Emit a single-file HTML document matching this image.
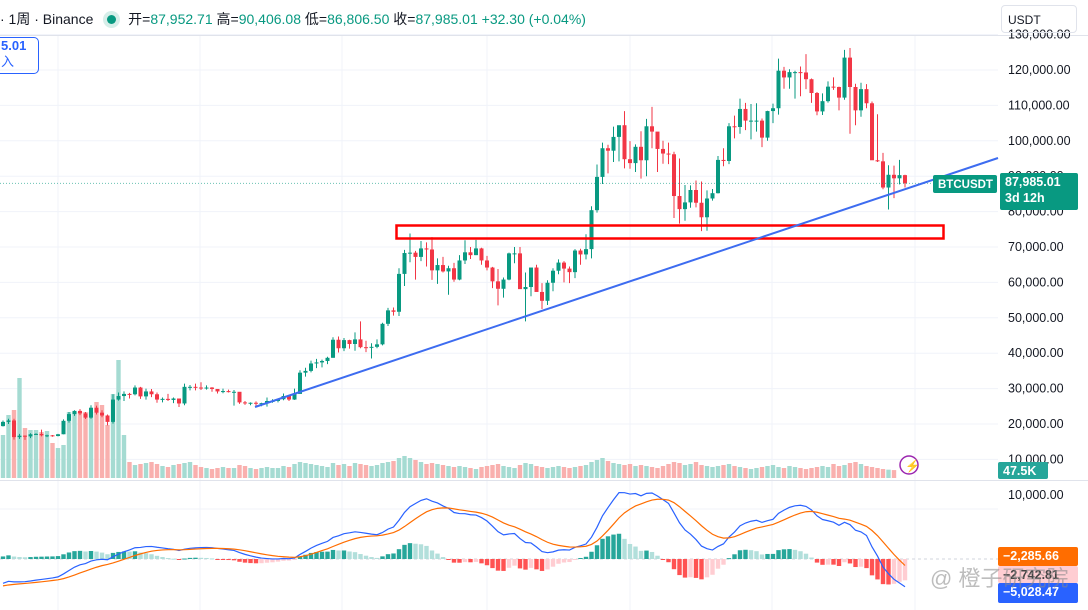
<!DOCTYPE html>
<html><head><meta charset="utf-8"><style>
body{margin:0;width:1088px;height:610px;overflow:hidden;background:#fff;font-family:"Liberation Sans","Noto Sans CJK SC",sans-serif;}
#wrap{position:relative;width:1088px;height:610px;}
svg{position:absolute;left:0;top:0;}
.hdr{position:absolute;top:9px;left:0;font-size:14px;color:#131722;white-space:nowrap;}
.hdr span.v{color:#089981}
</style></head><body><div id="wrap">
<svg id="s" width="1088" height="610"></svg>
<div class="hdr">· 1周 · Binance <span style="display:inline-block;width:9px;height:9px;border-radius:50%;background:#089981;box-shadow:0 0 0 4px #d6eee9;margin:0 8px 0 10px"></span> 开=<span class="v">87,952.71</span> 高=<span class="v">90,406.08</span> 低=<span class="v">86,806.50</span> 收=<span class="v">87,985.01</span> <span class="v">+32.30 (+0.04%)</span></div>
<div style="position:absolute;left:1001px;top:5px;width:76px;height:28px;border:1px solid #e0e3eb;border-radius:4px;font-size:12px;line-height:28px;padding-left:6px;box-sizing:border-box;color:#131722">USDT</div>
<div style="position:absolute;left:-8px;top:37px;width:47px;height:37px;border:1px solid #2962ff;border-radius:5px;font-size:13px;color:#2962ff;padding-left:8px;box-sizing:border-box;line-height:16px;font-weight:bold">5.01<br><span style="font-weight:normal">入</span></div>
</div>
<script>
const opens0=19.4;
const closes=[20.6,21.0,16.3,16.7,16.5,17.1,17.2,16.8,16.8,16.6,17.1,20.9,22.8,23.7,23.0,21.8,24.6,23.2,22.4,20.6,26.9,27.9,28.5,28.4,30.3,27.8,29.2,28.4,26.9,27.1,26.8,27.2,25.8,30.5,30.5,30.3,30.2,30.3,29.9,29.2,29.3,29.0,29.1,26.1,26.0,26.0,25.8,25.9,26.5,26.5,27.0,27.9,26.9,28.5,34.5,35.0,37.1,37.4,37.8,38.7,43.8,41.4,43.7,42.6,43.9,41.7,41.6,41.8,42.5,48.3,52.1,51.7,62.4,68.3,68.4,67.2,69.6,69.3,63.4,64.9,63.1,64.0,60.8,66.2,68.5,67.7,69.6,66.2,64.2,60.3,58.2,60.8,68.2,68.2,58.1,58.7,64.2,57.3,54.8,59.9,63.3,65.6,63.9,62.9,69.0,67.9,69.4,80.4,89.8,97.9,97.2,101.1,104.4,94.8,93.7,98.3,94.5,104.1,102.6,97.7,96.4,96.2,84.4,80.7,82.6,86.1,82.5,78.4,83.7,85.2,94.6,94.3,104.1,103.9,109.0,105.7,105.7,105.7,100.9,108.4,109.2,119.8,117.9,119.4,119.4,119.3,117.4,113.5,108.3,111.2,115.3,115.2,112.2,123.5,115.2,108.6,114.6,110.6,94.5,94.2,86.8,90.4,89.4,90.3,87.985];
const highs=[21.0,21.5,21.5,17.2,16.8,17.4,17.4,18.4,17.0,16.9,17.2,21.3,23.4,23.9,24.2,23.4,25.3,25.2,23.9,22.7,28.4,28.9,29.2,28.8,30.9,30.5,30.0,29.9,28.9,27.5,28.5,27.5,27.0,31.4,31.0,31.4,31.8,30.9,30.4,29.8,30.0,29.7,29.6,26.8,26.5,26.1,26.4,26.0,27.5,27.0,27.2,28.6,28.0,30.0,35.2,35.9,37.9,38.4,38.2,39.0,44.5,44.7,44.3,43.8,45.9,49.0,43.5,42.8,43.9,48.6,52.8,52.9,64.0,69.2,73.8,68.9,71.7,71.3,72.8,66.8,67.2,64.7,65.5,67.7,71.9,70.0,72.0,69.8,67.5,64.4,63.8,61.4,68.4,70.0,70.0,62.8,62.0,65.0,59.8,60.6,64.0,66.5,66.0,64.5,69.4,69.5,73.6,81.5,93.3,99.5,98.9,104.0,103.7,108.4,99.9,99.0,102.7,106.2,109.6,102.0,100.0,99.5,96.9,95.0,87.5,87.4,88.8,88.5,86.0,86.4,95.7,97.9,105.0,107.1,111.9,110.7,110.4,110.6,106.3,108.5,110.5,123.2,120.9,120.2,119.8,121.0,124.5,117.6,113.8,113.4,116.8,117.9,115.3,125.7,126.2,116.1,116.4,116.0,111.1,107.5,96.6,93.1,93.0,94.6,90.4];
const lows=[19.3,20.0,15.6,15.8,15.5,16.0,16.9,16.5,16.3,16.4,16.5,17.1,20.4,22.3,22.5,21.4,21.5,22.7,21.9,19.6,20.1,26.6,26.5,27.2,28.1,27.1,26.9,27.6,26.0,26.1,26.5,25.9,24.8,25.3,29.5,29.5,29.6,29.7,29.1,28.6,28.7,28.9,25.2,25.7,25.4,25.3,24.9,25.0,24.9,26.0,26.1,26.7,26.5,26.8,29.8,33.4,34.6,35.8,36.0,36.9,38.7,40.2,40.6,41.3,40.7,41.4,40.3,38.5,41.4,42.2,47.7,50.6,50.5,59.0,65.7,60.8,66.0,64.5,60.7,59.6,62.8,56.5,60.2,60.6,65.2,66.6,67.7,65.0,63.4,58.4,53.5,55.7,60.6,65.4,63.4,49.0,56.1,57.9,52.5,53.6,57.5,62.3,60.0,59.8,61.2,65.0,66.5,66.8,79.7,87.8,90.8,94.0,94.2,92.2,92.1,91.2,89.3,90.0,97.9,91.2,93.5,93.4,78.2,76.6,77.4,81.1,81.2,74.5,74.6,83.1,85.1,92.8,93.4,100.7,102.0,103.0,100.4,102.6,98.2,100.0,105.0,107.4,114.7,114.7,111.9,112.6,114.6,110.7,107.2,107.3,110.8,114.4,108.6,111.6,102.0,104.4,106.8,109.2,98.9,94.0,86.3,80.6,83.8,87.7,86.8];
const volumes=[258,378,408,600,300,288,288,276,282,210,180,198,396,396,396,396,396,456,438,318,504,708,258,96,78,84,90,96,84,72,66,78,84,90,96,78,66,60,54,60,66,60,60,78,72,60,54,60,66,60,60,72,66,84,96,90,84,78,72,66,90,78,84,72,90,84,78,72,78,90,96,102,120,132,120,108,96,84,90,84,78,72,66,72,66,60,54,66,72,78,84,72,66,60,78,90,84,72,66,60,66,72,66,60,66,72,78,96,108,120,102,90,84,78,84,72,78,72,66,60,72,84,96,90,78,84,96,78,72,66,72,78,84,72,66,60,54,60,66,72,78,66,60,72,66,60,54,60,66,72,66,84,72,78,90,96,84,72,66,60,54,50,47.5];
const priceTicks=[10000,20000,30000,40000,50000,60000,70000,80000,90000,100000,110000,120000,130000];
const NS="http://www.w3.org/2000/svg";
const svg=document.getElementById('s');
function el(t,a,parent){const e=document.createElementNS(NS,t);for(const k in a)e.setAttribute(k,a[k]);(parent||svg).appendChild(e);return e;}
const xOf=i=>3+i*5.5;
const yP=p=>70+(120-p)*3.54;        // p in thousands
const yV=v=>478-v/6;
const yM=m=>559-m*6.4;              // macd in thousands
// grid
[58,200,342,487,630,772,915].forEach(x=>{const g=el('line',{x1:x,x2:x,y1:35,y2:610,stroke:'#f0f3fa'});});
priceTicks.forEach(p=>{const y=yP(p/1000);const g=el('line',{x1:0,x2:998,y1:y,y2:y,stroke:'#f0f3fa'});});
el('line',{x1:0,x2:1088,y1:480.5,y2:480.5,stroke:'#e0e3eb'});
el('line',{x1:0,x2:1088,y1:35.5,y2:35.5,stroke:'#e0e3eb'});
el('line',{x1:0,x2:998,y1:509,y2:509,stroke:'#f0f3fa'});
// volumes
closes.forEach((c,i)=>{const o=i?closes[i-1]:opens0;const r=el('rect',{x:xOf(i)-2.2,y:yV(volumes[i]),width:4.4,height:478-yV(volumes[i]),fill:c>=o?'#a5dbd2':'#f9b0ae'});
});
// candles
closes.forEach((c,i)=>{const o=i?closes[i-1]:opens0;const col=c>=o?'#089981':'#f23645';const x=xOf(i);
const w=el('line',{x1:x,x2:x,y1:yP(highs[i]),y2:yP(lows[i]),stroke:col,'stroke-width':1});

const t=Math.min(yP(o),yP(c));const h=Math.max(1,Math.abs(yP(o)-yP(c)));
const b=el('rect',{x:x-2,y:t,width:4,height:h,fill:col});
});
// price line
el('line',{x1:0,x2:998,y1:yP(87.985),y2:yP(87.985),stroke:'#089981','stroke-dasharray':'1 2','stroke-width':1,opacity:0.6});
// red box & trendline
const box=el('rect',{x:396.5,y:225.5,width:547,height:13,fill:'none',stroke:'#ff0000','stroke-width':2.5});

const tl=el('line',{x1:255,y1:407,x2:998,y2:158,stroke:'#3d6cf0','stroke-width':2});

// macd
let e12=20.6,e26=24.4,sig=-4.2;const macd=[],sg=[];
closes.forEach((c,i)=>{if(i>0){e12=e12+(c-e12)*2/13;e26=e26+(c-e26)*2/27;sig=sig+((e12-e26)-sig)*2/10;}else{sig=-4.2;}macd.push(e12-e26);sg.push(sig);});
el('line',{x1:0,x2:998,y1:559,y2:559,stroke:'#d1d4dc','stroke-dasharray':'3 3'});
let prevH=null;
macd.forEach((m,i)=>{const h=m-sg[i];let col;if(h>=0)col=(prevH===null||h>=prevH)?'#26a69a':'#b2dfdb';else col=(prevH===null||h<=prevH)?'#ff5252':'#ffcdd2';prevH=h;
const y=yM(h);const r=el('rect',{x:xOf(i)-2.2,y:Math.min(y,559),width:4.4,height:Math.max(1,Math.abs(y-559)),fill:col});
});
const ml=el('polyline',{points:macd.map((m,i)=>xOf(i)+','+yM(m)).join(' '),fill:'none',stroke:'#2962ff','stroke-width':1.2});

const sl=el('polyline',{points:sg.map((m,i)=>xOf(i)+','+yM(m)).join(' '),fill:'none',stroke:'#ff6d00','stroke-width':1.2});

// axis labels
priceTicks.forEach(p=>{const t=el('text',{x:1008,y:yP(p/1000)+4,'font-size':12.5,fill:'#131722'});t.textContent=p.toLocaleString('en-US')+'.00';
});
const mt=el('text',{x:1008,y:499,'font-size':12.5,fill:'#131722'});mt.textContent='10,000.00';

function tag(x,y,w,h,fill,txt,tc,name,fs){const g=el('g',{});
el('rect',{x:x,y:y,width:w,height:h,rx:2,fill:fill},g);const lines=txt.split('\n');lines.forEach((l,k)=>{const t=el('text',{x:x+5,y:y+13+k*16,'font-size':fs||12.5,fill:tc,'font-weight':'bold'},g);t.textContent=l;});}
tag(933,175,64,18,'#089981','BTCUSDT','#fff','symbol-tag',11.5);
tag(1000,173,78,37,'#089981','87,985.01\n3d 12h','#fff','last-price-tag');
tag(998,462,50,17,'#26a69a','47.5K','#fff','volume-tag');
tag(998,547,80,19,'#ff6d00','−2,285.66','#fff','signal-value-tag');
tag(998,566,80,17,'#ffcdd2','−2,742.81','#444','histogram-value-tag');
tag(998,583,80,20,'#2962ff','−5,028.47','#fff','macd-value-tag');
// lightning icon
const li=el('g',{});
el('circle',{cx:909,cy:465,r:9,fill:'#fff',stroke:'#9c27b0','stroke-width':1.5},li);
const lt=el('text',{x:905,y:470,'font-size':12,fill:'#9c27b0'},li);lt.textContent='⚡';
// watermark
const wm=el('text',{x:930,y:586,'font-size':22,fill:'#888',opacity:0.55});wm.textContent='@ 橙子研究院';

</script></body></html>
